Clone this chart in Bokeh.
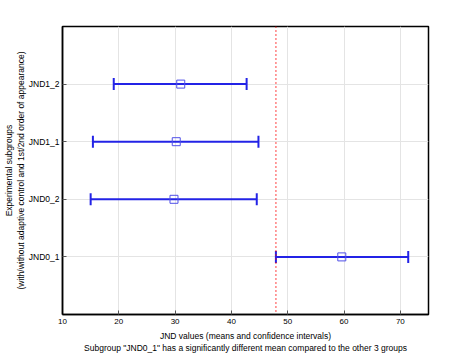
from bokeh.plotting import figure
from bokeh.models import ColumnDataSource, Whisker, TeeHead, Span, FixedTicker, Range1d
from bokeh.embed import file_html
from bokeh.resources import INLINE

groups = ["JND0_1", "JND0_2", "JND1_1", "JND1_2"]
positions = [1, 2, 3, 4]
means = [59.6, 29.8, 30.2, 31.0]
lower = [47.9, 15.0, 15.4, 19.1]
upper = [71.4, 44.5, 44.8, 42.7]
threshold = 47.9
x_ticks = [10, 20, 30, 40, 50, 60, 70]

FONT = "Liberation Sans"
BLUE = "#2323e6"

p = figure(width=474, height=355, output_backend="svg", toolbar_location=None,
           x_range=Range1d(10, 75), y_range=Range1d(0, 5),
           min_border_left=62, min_border_right=46, min_border_top=26, min_border_bottom=40)

src = ColumnDataSource(dict(y=positions, m=means, lo=lower, hi=upper))

p.xgrid.grid_line_color = "#e4e4e4"
p.ygrid.grid_line_color = "#e4e4e4"
p.outline_line_color = "black"
p.outline_line_width = 1.5

p.xaxis.ticker = FixedTicker(ticks=x_ticks)
p.yaxis.ticker = FixedTicker(ticks=positions)
p.yaxis.major_label_overrides = {pos: g for pos, g in zip(positions, groups)}
for ax in (p.xaxis[0], p.yaxis[0]):
    ax.major_tick_in = 4
    ax.major_tick_out = 0
    ax.minor_tick_line_color = None
    ax.axis_line_color = "black"
    ax.axis_line_width = 1.5
    ax.major_tick_line_color = "#555555"
    ax.major_label_text_font = FONT
    ax.major_label_text_font_size = "8px"
    ax.major_label_text_color = "black"
    ax.axis_label_text_font = FONT
    ax.axis_label_text_font_size = "8.5px"
    ax.axis_label_text_font_style = "normal"
    ax.axis_label_text_color = "black"

p.yaxis.major_label_text_font_size = "8.5px"
p.xaxis.major_label_standoff = 4
p.xaxis.axis_label = ("JND values (means and confidence intervals)\n"
                      "Subgroup \"JND0_1\" has a significantly different mean compared to the other 3 groups")
p.xaxis.axis_label_standoff = 4
p.yaxis.axis_label = ("Experimental subgroups\n"
                      "(with/without adaptive control and 1st/2nd order of appearance)")
p.yaxis.major_label_standoff = 3
p.yaxis.axis_label_standoff = 0

w = Whisker(source=src, base="y", lower="lo", upper="hi", dimension="width",
            line_color=BLUE, line_width=2,
            lower_head=TeeHead(size=12, line_color=BLUE, line_width=2),
            upper_head=TeeHead(size=12, line_color=BLUE, line_width=2))
p.add_layout(w)

p.scatter(x="m", y="y", source=src, marker="square", size=8,
          fill_color=None, line_color="#5050e8", line_width=1)

p.add_layout(Span(location=threshold, dimension="height", line_color="red",
                  line_width=1.5, line_dash="1 3"))

open("out.html", "w").write(file_html(p, INLINE))
